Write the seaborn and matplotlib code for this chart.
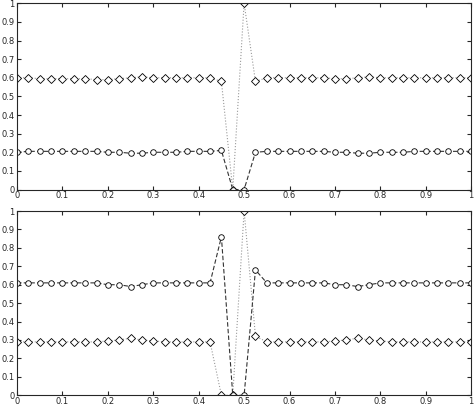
import numpy as np
import matplotlib
matplotlib.use("Agg")
import matplotlib.pyplot as plt
import seaborn as sns

x = [round(i * 0.025, 3) for i in range(41)]

top_diamond = [0.60, 0.60, 0.595, 0.595, 0.595, 0.595, 0.595, 0.59, 0.59, 0.595, 0.60, 0.605, 0.60, 0.60, 0.60, 0.60, 0.60, 0.60, 0.58,
               0.0, 1.0, 0.58, 0.60, 0.60, 0.60, 0.60, 0.60, 0.60, 0.595, 0.595, 0.60, 0.605, 0.60, 0.60, 0.60, 0.60, 0.60, 0.60, 0.60, 0.60, 0.60]
top_circle = [0.20, 0.205, 0.205, 0.205, 0.205, 0.205, 0.205, 0.205, 0.20, 0.20, 0.195, 0.195, 0.20, 0.20, 0.20, 0.205, 0.205, 0.205, 0.21,
              0.0, 0.0, 0.20, 0.205, 0.205, 0.205, 0.205, 0.205, 0.205, 0.20, 0.20, 0.195, 0.195, 0.20, 0.20, 0.20, 0.205, 0.205, 0.205, 0.205, 0.205, 0.205]
bot_circle = [0.61, 0.61, 0.61, 0.61, 0.61, 0.61, 0.61, 0.61, 0.60, 0.60, 0.59, 0.60, 0.61, 0.61, 0.61, 0.61, 0.61, 0.61, 0.86,
              0.0, 0.0, 0.68, 0.61, 0.61, 0.61, 0.61, 0.61, 0.61, 0.60, 0.60, 0.59, 0.60, 0.61, 0.61, 0.61, 0.61, 0.61, 0.61, 0.61, 0.61, 0.61]
bot_diamond = [0.29, 0.29, 0.29, 0.29, 0.29, 0.29, 0.29, 0.29, 0.295, 0.30, 0.31, 0.30, 0.295, 0.29, 0.29, 0.29, 0.29, 0.29, 0.0,
               0.0, 1.0, 0.32, 0.29, 0.29, 0.29, 0.29, 0.29, 0.29, 0.295, 0.30, 0.31, 0.30, 0.295, 0.29, 0.29, 0.29, 0.29, 0.29, 0.29, 0.29, 0.29]

ticks = [round(i * 0.1, 1) for i in range(11)]
tick_labels = ["0", "0.1", "0.2", "0.3", "0.4", "0.5", "0.6", "0.7", "0.8", "0.9", "1"]

sns.set_style("ticks")
fig = plt.figure(figsize=(4.74, 4.05), dpi=100)
ax1 = fig.add_axes([0.036, 0.532, 0.958, 0.46])
ax2 = fig.add_axes([0.036, 0.024, 0.958, 0.455])

def draw(ax, dia, cir):
    sns.lineplot(x=x, y=dia, ax=ax, color="#999999", linestyle=":", linewidth=0.8,
                 marker="D", markersize=3.6, markerfacecolor="white", markeredgecolor="black",
                 markeredgewidth=0.6)
    sns.lineplot(x=x, y=cir, ax=ax, color="#333333", linestyle=(0, (4, 2)), linewidth=0.8,
                 marker="o", markersize=4.0, markerfacecolor="white", markeredgecolor="black",
                 markeredgewidth=0.6)
    ax.set_xlim(0, 1)
    ax.set_ylim(0, 1)
    ax.set_xticks(ticks)
    ax.set_xticklabels(tick_labels)
    ax.set_yticks(ticks)
    ax.set_yticklabels(tick_labels)
    ax.tick_params(direction="in", length=3, labelsize=6, pad=2, top=True, right=True)
    for s in ax.spines.values():
        s.set_linewidth(0.8)
        s.set_visible(True)

draw(ax1, top_diamond, top_circle)
draw(ax2, bot_diamond, bot_circle)
ax1.tick_params(axis="x", pad=1)
ax2.tick_params(axis="x", pad=1)
fig.savefig("out.png", dpi=100)
